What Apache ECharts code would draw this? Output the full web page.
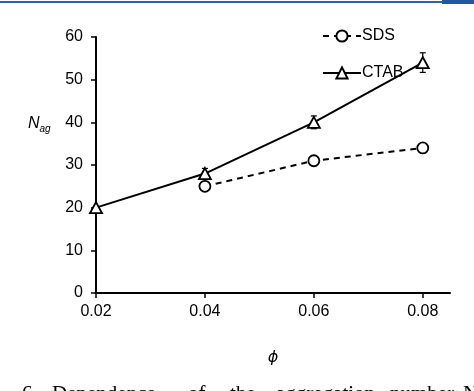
<!DOCTYPE html>
<html>
<head>
<meta charset="utf-8">
<script src="https://cdn.jsdelivr.net/npm/echarts@6/dist/echarts.min.js"></script>
<style>
html,body{margin:0;padding:0;background:#fff;}
#chart{width:474px;height:391px;}
</style>
</head>
<body>
<div id="chart"></div>
<script>
// ---- data ----
const phiSDS = [0.04, 0.06, 0.08];
const nagSDS = [25, 31, 34];
const phiCTAB = [0.02, 0.04, 0.06, 0.08];
const nagCTAB = [20, 28, 40, 54];
const errCTAB = [0, 1.2, 1.5, 2.3];
const xTicks = [0.02, 0.04, 0.06, 0.08];
const seriesNames = ['SDS', 'CTAB'];
const captionWords = ['6.', 'Dependence', 'of', 'the', 'aggregation', 'number', 'N'];

const sdsData = phiSDS.map((x, i) => [x, nagSDS[i]]);
const ctabData = phiCTAB.map((x, i) => [x, nagCTAB[i]]);
const errData = phiCTAB.map((x, i) => [x, nagCTAB[i] - errCTAB[i], nagCTAB[i] + errCTAB[i]]).filter((d, i) => errCTAB[i] > 0);

const FONT = 'Liberation Sans, Arial, sans-serif';
const captionX = [22, 52, 188, 230, 276, 390, 463];

const chart = echarts.init(document.getElementById('chart'), null, {renderer: 'canvas'});
const option = {
  backgroundColor: '#fff',
  animation: false,
  grid: {left: 96, right: 24, top: 37, bottom: 98, containLabel: false},
  legend: [
    {data: [seriesNames[0]], left: 322, top: 28, padding: 0, itemWidth: 38, itemHeight: 14,
     textStyle: {fontFamily: FONT, fontSize: 16, color: '#000', padding: [0, 0, 0, -4]}},
    {data: [seriesNames[1]], left: 322, top: 65, padding: 0, itemWidth: 38, itemHeight: 14,
     textStyle: {fontFamily: FONT, fontSize: 16, color: '#000', padding: [0, 0, 0, -4]}}
  ],
  xAxis: {
    type: 'value', min: 0.02, max: 0.085,
    name: 'ϕ', nameLocation: 'middle', nameGap: 57,
    nameTextStyle: {fontFamily: 'DejaVu Sans', fontStyle: 'italic', fontSize: 16, color: '#000'},
    axisLine: {onZero: false, lineStyle: {color: '#000', width: 2}},
    axisTick: {show: true, length: 5, lineStyle: {color: '#000', width: 1.5}, customValues: xTicks},
    axisLabel: {customValues: xTicks, margin: 11, fontFamily: FONT, fontSize: 16, color: '#000',
      formatter: v => v.toFixed(2)},
    splitLine: {show: false}
  },
  yAxis: {
    type: 'value', min: 0, max: 60, interval: 10,
    axisLine: {show: true, lineStyle: {color: '#000', width: 2}},
    axisTick: {show: true, length: 5, lineStyle: {color: '#000', width: 1.5}},
    axisLabel: {margin: 13, fontFamily: FONT, fontSize: 16, color: '#000'},
    splitLine: {show: false}
  },
  series: [
    {
      type: 'custom', name: 'err', z: 1, silent: true, clip: false,
      renderItem: function (params, api) {
        const x = api.value(0);
        const lo = api.coord([x, api.value(1)]);
        const hi = api.coord([x, api.value(2)]);
        const w = 3;
        const st = {stroke: '#000', lineWidth: 1.2};
        return {type: 'group', children: [
          {type: 'line', shape: {x1: lo[0], y1: lo[1], x2: hi[0], y2: hi[1]}, style: st},
          {type: 'line', shape: {x1: lo[0] - w, y1: lo[1], x2: lo[0] + w, y2: lo[1]}, style: st},
          {type: 'line', shape: {x1: hi[0] - w, y1: hi[1], x2: hi[0] + w, y2: hi[1]}, style: st}
        ]};
      },
      encode: {x: 0, y: [1, 2]},
      data: errData
    },
    {
      name: seriesNames[0], type: 'line', data: sdsData, clip: false, z: 3,
      symbol: 'circle', symbolSize: 11,
      lineStyle: {color: '#000', width: 2, type: [6, 5]},
      itemStyle: {color: '#fff', borderColor: '#000', borderWidth: 1.8}
    },
    {
      name: seriesNames[1], type: 'line', data: ctabData, clip: false, z: 3,
      symbol: 'triangle', symbolSize: [12, 11],
      lineStyle: {color: '#000', width: 2},
      itemStyle: {color: '#fff', borderColor: '#000', borderWidth: 1.8}
    }
  ],
  graphic: [
    {type: 'rect', left: 0, top: 1, shape: {width: 442, height: 2}, style: {fill: '#2a64a8'}, silent: true},
    {type: 'rect', left: 442, top: 0, shape: {width: 32, height: 4}, style: {fill: '#1f5aa0'}, silent: true},
    {type: 'text', left: 28, top: 116, silent: true,
     style: {text: '{n|N}{s|ag}', rich: {
       n: {fontFamily: FONT, fontStyle: 'italic', fontSize: 16, color: '#000'},
       s: {fontFamily: FONT, fontStyle: 'italic', fontSize: 10, color: '#000', padding: [10, 0, 0, 0]}
     }}}
  ].concat(captionWords.map((w, i) => ({
    type: 'text', x: captionX[i], y: 394, silent: true,
    style: {text: w, fontFamily: 'Liberation Serif, serif', fontSize: 21, fill: '#000', verticalAlign: 'middle'}
  })))
};
chart.setOption(option);
</script>
</body>
</html>
